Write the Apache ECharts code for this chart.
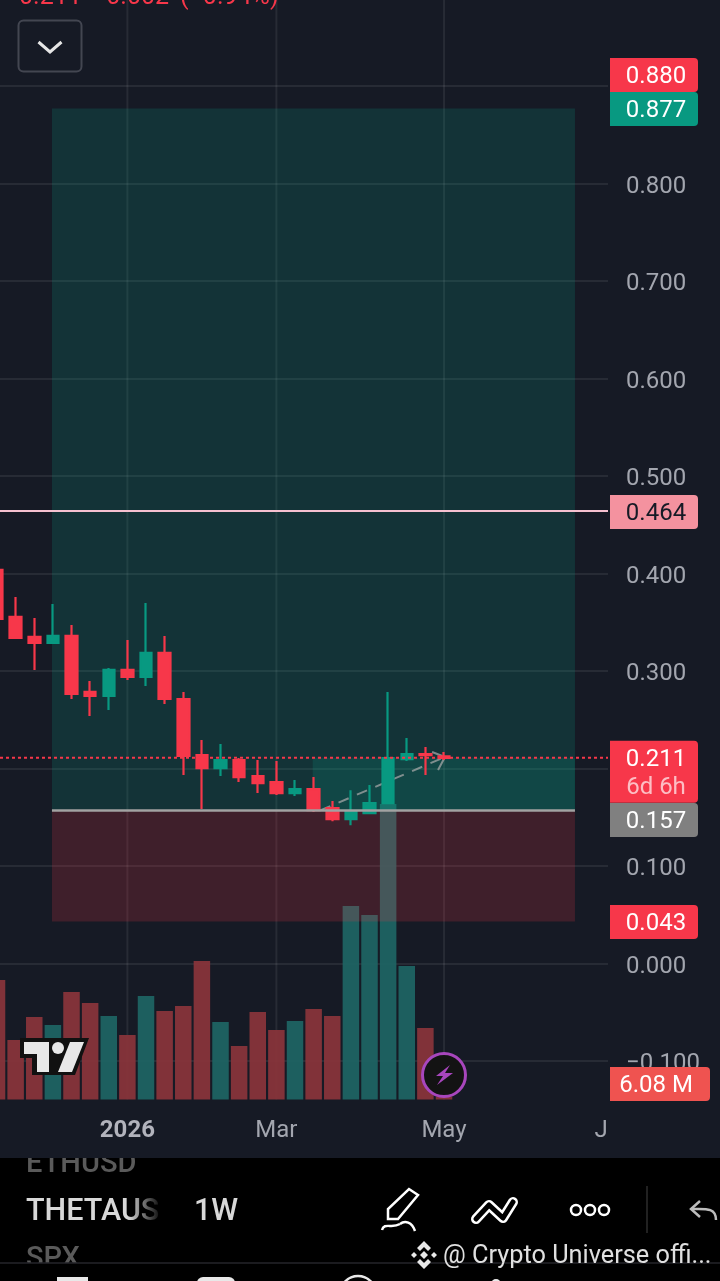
<!DOCTYPE html>
<html><head><meta charset="utf-8">
<style>html,body{margin:0;padding:0;background:#161a25}#c{width:720px;height:1281px}</style>
<script src="https://cdn.jsdelivr.net/npm/echarts@6/dist/echarts.min.js"></script>
</head><body><div id="c"></div>
<script>
const weeks = ['2025-11-17','2025-11-24','2025-12-01','2025-12-08','2025-12-15','2025-12-22','2025-12-29','2026-01-05','2026-01-12','2026-01-19','2026-01-26','2026-02-02','2026-02-09','2026-02-16','2026-02-23','2026-03-02','2026-03-09','2026-03-16','2026-03-23','2026-03-30','2026-04-06','2026-04-13','2026-04-20','2026-04-27','2026-05-04','2026-05-11','2026-05-18','2026-05-25','2026-06-01','2026-06-08','2026-06-15','2026-06-22','2026-06-29','2026-07-06'];
const timeTicks = {'2026-01-05':'2026','2026-03-02':'Mar','2026-05-04':'May','2026-07-06':'J'};
const candleOpen  = [.4037,.3555,.3349,.3288,.3360,.2785,.2744,.3011,.2939,.3185,.2713,.2138,.2004,.2087,.1922,.1861,.1748,.1789,.1594,.1481,.1542,.1645,.2097,.2148,.2125];
const candleClose = [.3534,.3339,.3288,.3360,.2764,.2744,.3011,.2939,.3185,.2713,.2128,.2004,.2087,.1912,.1850,.1748,.1789,.1573,.1481,.1553,.1645,.2107,.2148,.2138,.2110];
const candleLow   = [.3534,.3339,.3011,.3278,.2713,.2538,.2600,.2908,.2846,.2661,.1933,.1584,.1922,.1861,.1748,.1727,.1717,.1553,.1460,.1419,.1532,.1635,.2076,.1933,.2087];
const candleHigh  = [.4037,.3760,.3544,.3688,.3473,.2898,.3031,.3319,.3698,.3360,.2785,.2292,.2251,.2107,.2087,.2076,.1881,.1912,.1666,.1778,.1830,.2785,.2312,.2220,.2169];
const volumeM     = [239,119,165,149,215,193,167,129,207,177,187,277,155,107,175,139,157,181,167,387,369,591,267,143,6.08];
const verticalGridWeeks = [7,15,24];
const lastPrice = 0.211, entryPrice = 0.157, targetPrice = 0.877, stopPrice = 0.043, alertPrice = 0.464;
const boxStart = 2.95, boxEnd = 31.03, profitStart = 17;
const arrowShaft = [[17.35,0.157],[24.05,0.2118]];
const arrowBarbs = [[[23.36,0.2169],[24.05,0.2118]],[[23.68,0.1984],[24.05,0.2118]]];
const tagValues = [0.880,0.877,0.464,0.211,0.157,0.043];
const tagTexts  = ['0.880','0.877','0.464','0.211','0.157','0.043'];

const BG='#161a25', RED='#f7374a', GREEN='#089981', GRID='rgba(255,255,255,0.075)', AXIS='#a3a6af';
const FONT='Roboto';
const tagStyle = [
  {fill:RED,color:'#fff',nudge:-30.5},
  {fill:GREEN,color:'#fff',nudge:0.6},
  {fill:'#f4929f',color:'#161a25',nudge:1},
  {fill:RED,color:'#fff',nudge:0,sub:'6d 6h'},
  {fill:'#808080',color:'#fff',nudge:9.6},
  {fill:RED,color:'#fff',nudge:0.4}
];
const mkTag = (x,width,y,h,s,txt) => ({type:'group',children:[
  {type:'rect',shape:{x:x,y:y,width:width,height:h,r:[0,4,4,0]},style:{fill:s.fill}},
  {type:'text',style:{text:txt,x:x+46,y:y+19,align:'center',verticalAlign:'middle',fill:s.color,font:'24px '+FONT}},
  s.sub?{type:'text',style:{text:s.sub,x:x+46,y:y+47,align:'center',verticalAlign:'middle',fill:'rgba(255,255,255,0.68)',font:'24px '+FONT}}:{type:'group'}
]});
const rectRender = () => (p,api)=>{
  const a=api.coord([api.value(0),api.value(2)]), b=api.coord([api.value(1),api.value(3)]);
  return {type:'rect',shape:{x:a[0],y:a[1],width:b[0]-a[0],height:b[1]-a[1]},style:{fill:api.value(4)===0?'rgba(8,153,129,0.2)':'rgba(242,54,69,0.19)'}};
};
const dashed = {color:'rgba(170,170,170,0.72)',width:2,type:[11,9]};
const yTop=-11.5, yH=1170, gLeft=-12.3, gW=633.25;

const option = {
  animation:false, backgroundColor:BG, textStyle:{fontFamily:FONT},
  grid:[
    {left:0,width:608,top:yTop,height:yH,outerBoundsMode:'none'},
    {left:gLeft,width:gW,top:yTop,height:yH,outerBoundsMode:'none'},
    {left:gLeft,width:gW,top:799.5,height:300,outerBoundsMode:'none'}
  ],
  xAxis:[
    {type:'value',gridIndex:0,min:0,max:608,show:false},
    {type:'category',gridIndex:1,data:weeks,show:false},
    {type:'value',gridIndex:1,min:-0.5,max:33.5,show:false},
    {type:'category',gridIndex:2,data:weeks,axisLine:{show:false},axisTick:{show:false},splitLine:{show:false},
      axisLabel:{interval:0,margin:19,hideOverlap:false,fontFamily:FONT,fontSize:24,color:AXIS,
        formatter:v=>{const t=timeTicks[v]; if(!t) return ''; if(t==='2026') return '{b|'+t+'}'; if(t==='J') return '{j|'+t+'}'; return t;},
        rich:{b:{fontWeight:700,fontSize:24,color:'#b2b3bc',fontFamily:FONT},j:{fontSize:24,color:AXIS,fontFamily:FONT,padding:[0,21,0,0]}}}}
  ],
  yAxis:[
    {type:'value',gridIndex:0,position:'right',min:-0.2,max:1,interval:0.1,
      axisLine:{show:false},axisTick:{show:false},splitLine:{show:true,lineStyle:{color:GRID,width:2}},
      axisLabel:{margin:18,fontFamily:FONT,fontSize:24,color:AXIS,
        formatter:v=>{const r=Math.round(v*10)/10; if(r<=-0.2||r>=1) return ''; return '{a|'+r.toFixed(3).replace('-','\u2212')+'}';},
        rich:{a:{padding:[6,0,0,0],fontSize:24,color:AXIS,fontFamily:FONT}}}},
    {type:'value',gridIndex:1,min:-0.2,max:1,show:false},
    {type:'value',gridIndex:2,min:0,max:600,show:false}
  ],
  series:[
    {type:'custom',name:'vgrid',xAxisIndex:2,yAxisIndex:1,z:1,data:verticalGridWeeks.map(v=>[v]),
      renderItem:(p,api)=>{const a=api.coord([api.value(0),-0.1395]),b=api.coord([api.value(0),1]);
        return {type:'line',shape:{x1:a[0],y1:a[1],x2:b[0],y2:b[1]},style:{stroke:GRID,lineWidth:2}};}},
    {type:'bar',name:'Volume',xAxisIndex:3,yAxisIndex:2,z:2,barWidth:16.5,
      data:volumeM.map((v,i)=>({value:v,itemStyle:{color:candleClose[i]>=candleOpen[i]?'rgba(30,100,99,0.94)':'rgba(136,52,58,0.94)'}}))},
    {type:'custom',name:'position',xAxisIndex:2,yAxisIndex:1,z:3,
      data:[[boxStart,boxEnd,targetPrice,entryPrice,0],[boxStart,boxEnd,entryPrice,stopPrice,1],[profitStart-0.05,boxEnd,lastPrice,entryPrice,0]],
      renderItem:rectRender()},
    {type:'line',name:'shaft',xAxisIndex:2,yAxisIndex:1,z:4,symbol:'none',lineStyle:dashed,data:arrowShaft},
    {type:'line',name:'barb1',xAxisIndex:2,yAxisIndex:1,z:4,symbol:'none',lineStyle:dashed,data:arrowBarbs[0]},
    {type:'line',name:'barb2',xAxisIndex:2,yAxisIndex:1,z:4,symbol:'none',lineStyle:{color:dashed.color,width:2,type:'solid'},data:arrowBarbs[1]},
    {type:'candlestick',name:'THETAUSD',xAxisIndex:1,yAxisIndex:1,z:5,barWidth:12,
      itemStyle:{color:GREEN,color0:RED,borderColor:GREEN,borderColor0:RED,borderWidth:2.2},
      data:candleOpen.map((o,i)=>[o,candleClose[i],candleLow[i],candleHigh[i]])},
    {type:'line',name:'entry',xAxisIndex:2,yAxisIndex:1,z:6,symbol:'none',lineStyle:{color:'#a2a2a2',width:2.4},data:[[boxStart,entryPrice],[boxEnd,entryPrice]]},
    {type:'line',name:'alert',xAxisIndex:0,yAxisIndex:0,z:6,symbol:'none',lineStyle:{color:'#f6c1d0',width:2},data:[[0,alertPrice],[608,alertPrice]]},
    {type:'line',name:'last',xAxisIndex:0,yAxisIndex:0,z:6,symbol:'none',lineStyle:{color:RED,width:2,type:[3,3]},data:[[0,lastPrice],[608,lastPrice]]},
    {type:'custom',name:'tags',xAxisIndex:0,yAxisIndex:0,z:8,data:tagValues.map(v=>[v]),
      renderItem:(p,api)=>{const i=p.dataIndex,s=tagStyle[i],c=api.coord([0,api.value(0)])[1]+s.nudge;
        return s.sub?mkTag(610,88,c-17,62,s,tagTexts[i]):mkTag(610,88,c-17,34,s,tagTexts[i]);}},
    {type:'custom',name:'volTag',xAxisIndex:3,yAxisIndex:2,z:8,data:[[24,volumeM[24]]],
      renderItem:(p,api)=>{const c=api.coord([api.value(0),api.value(1)])[1]-12.5;
        return mkTag(610,100,c-17,34,{fill:'#ef5350',color:'#fff'},volumeM[24].toFixed(2)+' M');}}
  ],
  graphic:[
    {type:'text',z:20,style:{text:'0.211',x:19,y:-15,fill:RED,font:'25px '+FONT}},
    {type:'text',z:20,style:{text:'\u22120.002',x:92,y:-15,fill:RED,font:'25px '+FONT}},
    {type:'text',z:20,style:{text:'(\u22120.94%)',x:180,y:-15,fill:RED,font:'25px '+FONT}},
    {type:'rect',z:20,shape:{x:18.5,y:20.5,width:63,height:51,r:5},style:{fill:'rgba(0,0,0,0)',stroke:'#434651',lineWidth:2}},
    {type:'polyline',z:20,shape:{points:[[38.5,42],[50,52],[61.5,42]]},style:{fill:'none',stroke:'#e6e6e6',lineWidth:3}},
    // TradingView mark
    {type:'polygon',z:20,shape:{points:[[20,1038],[89,1038],[75,1075],[32,1075],[32,1058],[20,1058]]},style:{fill:'#111'}},
    {type:'polygon',z:21,shape:{points:[[24,1042],[49,1042],[49,1072],[37,1072],[37,1054],[24,1054]]},style:{fill:'#e8e8e8'}},
    {type:'circle',z:21,shape:{cx:58,cy:1048,r:6},style:{fill:'#e8e8e8'}},
    {type:'polygon',z:21,shape:{points:[[70,1042],[84,1042],[72,1072],[58,1072]]},style:{fill:'#e8e8e8'}},
    // lightning badge
    {type:'circle',z:20,shape:{cx:444,cy:1075,r:21.5},style:{fill:'#131313',stroke:'#a846bd',lineWidth:3}},
    {type:'polygon',z:21,shape:{points:[[450,1065],[436,1076],[443,1076],[437,1085],[453,1073],[445,1073]]},style:{fill:'#a846bd'}},
    // bottom panel
    {type:'rect',z:30,shape:{x:0,y:1158,width:720,height:123},style:{fill:'#000'}},
    {type:'text',z:31,style:{text:'ETHUSD',x:26,y:1150,fill:'#5a5a5a',font:'500 29px '+FONT}},
    {type:'rect',z:32,shape:{x:0,y:1144,width:720,height:14},style:{fill:BG}},
    {type:'text',z:31,style:{text:'THETAUSD',x:26,y:1197,fill:'#d8d8d8',font:'500 30.5px '+FONT}},
    {type:'rect',z:32,shape:{x:128,y:1185,width:34,height:50},style:{fill:{type:'linear',x:0,y:0,x2:1,y2:0,colorStops:[{offset:0,color:'rgba(0,0,0,0)'},{offset:1,color:'#000'}]}}},
    {type:'rect',z:32,shape:{x:160,y:1185,width:30,height:50},style:{fill:'#000'}},
    {type:'text',z:33,style:{text:'1W',x:194,y:1197,fill:'#d8d8d8',font:'500 30.5px '+FONT}},
    {type:'text',z:31,style:{text:'SPX',x:26,y:1245,fill:'#5a5a5a',font:'500 29px '+FONT}},
    {type:'rect',z:32,shape:{x:0,y:1263,width:720,height:18},style:{fill:'#000'}},
    {type:'line',z:33,shape:{x1:0,y1:1263,x2:720,y2:1263},style:{stroke:'#24242a',lineWidth:1.5}},
    // toolbar icons
    {type:'polygon',z:33,shape:{points:[[388,1219],[388,1209],[409,1189],[418,1195],[398,1219]]},style:{fill:'none',stroke:'#fff',lineWidth:2.5}},
    {type:'bezierCurve',z:33,shape:{x1:382,y1:1230,cpx1:384,cpy1:1222,cpx2:392,cpy2:1229,x2:400,y2:1224},style:{fill:'none',stroke:'#fff',lineWidth:2.5}},
    {type:'bezierCurve',z:33,shape:{x1:400,y1:1224,cpx1:405,cpy1:1220,cpx2:412,cpy2:1222,x2:415,y2:1231},style:{fill:'none',stroke:'#fff',lineWidth:2.5}},
    {type:'polyline',z:33,shape:{points:[[476,1219],[489,1205],[503,1218],[513,1202]]},style:{fill:'none',stroke:'#fff',lineWidth:10,lineCap:'round',lineJoin:'round'}},
    {type:'polyline',z:34,shape:{points:[[476,1219],[489,1205],[503,1218],[513,1202]]},style:{fill:'none',stroke:'#000',lineWidth:5,lineCap:'round',lineJoin:'round'}},
    {type:'circle',z:33,shape:{cx:576,cy:1210,r:5},style:{fill:'#000',stroke:'#fff',lineWidth:2.5}},
    {type:'circle',z:33,shape:{cx:590,cy:1210,r:5},style:{fill:'#000',stroke:'#fff',lineWidth:2.5}},
    {type:'circle',z:33,shape:{cx:604,cy:1210,r:5},style:{fill:'#000',stroke:'#fff',lineWidth:2.5}},
    {type:'line',z:33,shape:{x1:647,y1:1186,x2:647,y2:1233},style:{stroke:'#2c2c2c',lineWidth:1.5}},
    {type:'polyline',z:33,shape:{points:[[700,1201],[691,1209],[700,1217]]},style:{fill:'none',stroke:'#bcbcbc',lineWidth:2.5}},
    {type:'bezierCurve',z:33,shape:{x1:691,y1:1209,cpx1:705,cpy1:1209,cpx2:716,cpy2:1207,x2:716,y2:1220},style:{fill:'none',stroke:'#bcbcbc',lineWidth:2.5}},
    // watermark
    {type:'polygon',z:35,shape:{points:[[424,1241],[431,1248],[428,1251],[424,1247],[420,1251],[417,1248]]},style:{fill:'#e8e8e8'}},
    {type:'polygon',z:35,shape:{points:[[424,1269],[431,1262],[428,1259],[424,1263],[420,1259],[417,1262]]},style:{fill:'#e8e8e8'}},
    {type:'polygon',z:35,shape:{points:[[424,1251],[428,1255],[424,1259],[420,1255]]},style:{fill:'#e8e8e8'}},
    {type:'polygon',z:35,shape:{points:[[414,1252],[417,1255],[414,1258],[411,1255]]},style:{fill:'#e8e8e8'}},
    {type:'polygon',z:35,shape:{points:[[434,1252],[437,1255],[434,1258],[431,1255]]},style:{fill:'#e8e8e8'}},
    {type:'text',z:35,style:{text:'@ Crypto Universe offi...',x:443,y:1244,fill:'#e0e0e0',font:'25.3px '+FONT}},
    // bottom navigation, cut by the window edge
    {type:'rect',z:35,shape:{x:57,y:1277,width:31,height:8},style:{fill:'#e8e8e8'}},
    {type:'rect',z:35,shape:{x:197,y:1277,width:38,height:10,r:[6,6,0,0]},style:{fill:'#e8e8e8'}},
    {type:'circle',z:35,shape:{cx:358,cy:1294,r:18},style:{fill:'none',stroke:'#e8e8e8',lineWidth:2.5}},
    {type:'circle',z:35,shape:{cx:496,cy:1284,r:5},style:{fill:'#e8e8e8'}}
  ]
};
echarts.init(document.getElementById('c')).setOption(option);
</script></body></html>
